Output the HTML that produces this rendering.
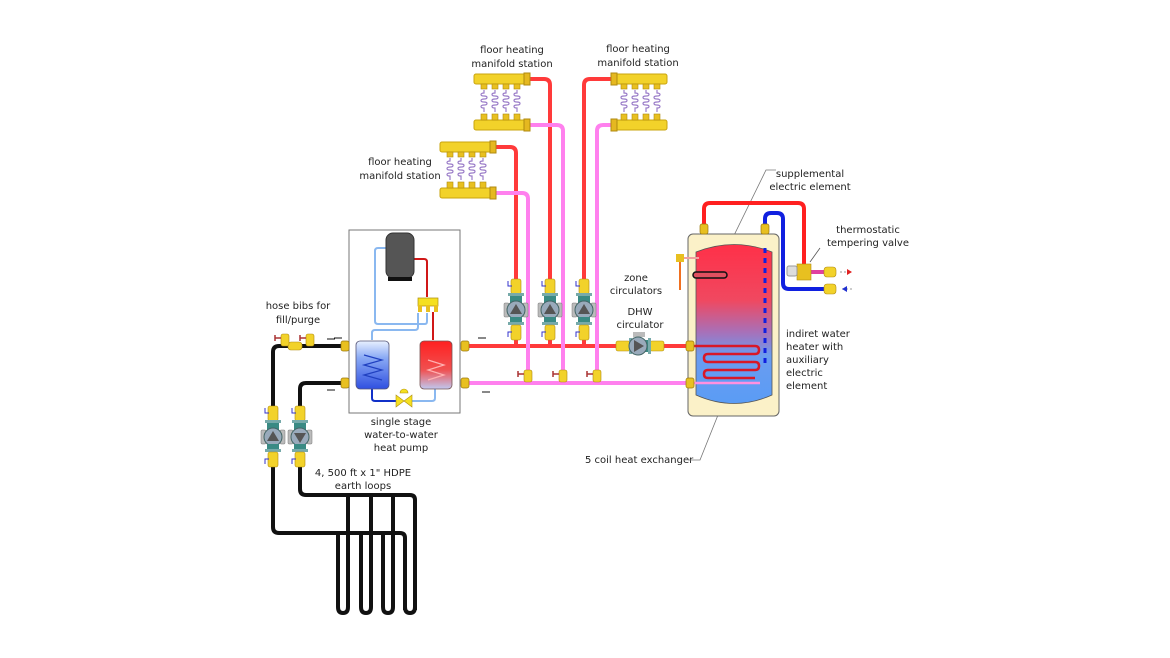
<!DOCTYPE html>
<html><head><meta charset="utf-8"><style>
html,body{margin:0;padding:0;background:#fff}
svg{display:block}
text{font-family:"DejaVu Sans","Liberation Sans",sans-serif;font-size:10px;fill:#222}
</style></head><body>
<svg width="1170" height="658" viewBox="0 0 1170 658" xmlns="http://www.w3.org/2000/svg">
<defs>
<linearGradient id="tank" x1="0" y1="0" x2="0" y2="1">
<stop offset="0" stop-color="#ff3048"/><stop offset="0.35" stop-color="#f04860"/><stop offset="0.55" stop-color="#a870b8"/><stop offset="0.7" stop-color="#6a9cf0"/><stop offset="1" stop-color="#5a9cf5"/></linearGradient>
<linearGradient id="evap" x1="0" y1="0" x2="0" y2="1"><stop offset="0" stop-color="#e8f0ff"/><stop offset="0.35" stop-color="#8aaaf5"/><stop offset="1" stop-color="#3050e0"/></linearGradient>
<linearGradient id="cond" x1="0" y1="0" x2="0" y2="1"><stop offset="0" stop-color="#ff2020"/><stop offset="0.6" stop-color="#f05050"/><stop offset="1" stop-color="#c0c8f0"/></linearGradient>
<g id="mf">
<rect x="0" y="-5" width="52" height="10" rx="2" fill="#f2d22a" stroke="#c9a40f"/>
<rect x="50" y="-6" width="6" height="12" fill="#e5b820" stroke="#b08a10"/>
<rect x="0" y="41" width="52" height="10" rx="2" fill="#f2d22a" stroke="#c9a40f"/>
<rect x="50" y="40" width="6" height="12" fill="#e5b820" stroke="#b08a10"/>
<g fill="#e8c020" stroke="#b08a10" stroke-width=".6">
<rect x="7" y="5" width="6" height="5"/><rect x="18" y="5" width="6" height="5"/><rect x="29" y="5" width="6" height="5"/><rect x="40" y="5" width="6" height="5"/>
<rect x="7" y="35" width="6" height="6"/><rect x="18" y="35" width="6" height="6"/><rect x="29" y="35" width="6" height="6"/><rect x="40" y="35" width="6" height="6"/></g>
<g fill="none" stroke="#9a7cc8" stroke-width="1.2">
<path d="M10 11v3 c-4 0 -4 3 0 3 c4 0 4 3 0 3 c-4 0 -4 3 0 3 c4 0 4 3 0 3 c-4 0 -4 3 0 3 v4"/>
<path d="M21 11v3 c-4 0 -4 3 0 3 c4 0 4 3 0 3 c-4 0 -4 3 0 3 c4 0 4 3 0 3 c-4 0 -4 3 0 3 v4"/>
<path d="M32 11v3 c-4 0 -4 3 0 3 c4 0 4 3 0 3 c-4 0 -4 3 0 3 c4 0 4 3 0 3 c-4 0 -4 3 0 3 v4"/>
<path d="M43 11v3 c-4 0 -4 3 0 3 c4 0 4 3 0 3 c-4 0 -4 3 0 3 c4 0 4 3 0 3 c-4 0 -4 3 0 3 v4"/></g>
</g>
<g id="circB">
<rect x="-5" y="-31" width="10" height="15" rx="2" fill="#f2d22a" stroke="#b08a10" stroke-width=".6"/>
<rect x="-8" y="-17" width="16" height="3" fill="#7aa"/>
<rect x="-6" y="-14" width="12" height="8" fill="#3a8a84"/>
<rect x="-12" y="-7" width="5" height="14" rx="1" fill="#bbb" stroke="#777" stroke-width=".5"/>
<rect x="7" y="-7" width="5" height="14" rx="1" fill="#bbb" stroke="#777" stroke-width=".5"/>
<circle cx="0" cy="0" r="9" fill="#9ab" stroke="#466" stroke-width="1"/>
<rect x="-6" y="7" width="12" height="5" fill="#3a8a84"/>
<rect x="-8" y="12" width="16" height="3" fill="#7aa"/>
<rect x="-5" y="15" width="10" height="15" rx="2" fill="#f2d22a" stroke="#b08a10" stroke-width=".6"/>
<path d="M-8 -29 v5 h4 M-8 27 v-5 h4" stroke="#33c" fill="none"/>
</g>
<g id="circV"><use href="#circB"/><path d="M-6 4 L0 -6 L6 4Z" fill="#555"/></g>
<g id="circD"><use href="#circB"/><path d="M-6 -4 L0 6 L6 -4Z" fill="#555"/></g>
<g id="fit"><rect x="-4" y="-5" width="8" height="10" rx="2" fill="#e8c020" stroke="#9a7810" stroke-width=".7"/></g>
<g id="bv"><rect x="-4" y="-6" width="8" height="12" rx="2" fill="#f2d22a" stroke="#b08a10" stroke-width=".6"/><path d="M-4 -2 h-6 M-10 -5 v6" stroke="#a33" stroke-width="1.5"/></g>
</defs>

<!-- labels -->
<text x="512" y="53" text-anchor="middle">floor heating</text>
<text x="512" y="67" text-anchor="middle">manifold station</text>
<text x="638" y="52" text-anchor="middle">floor heating</text>
<text x="638" y="66" text-anchor="middle">manifold station</text>
<text x="400" y="165" text-anchor="middle">floor heating</text>
<text x="400" y="179" text-anchor="middle">manifold station</text>
<text x="298" y="309" text-anchor="middle">hose bibs for</text>
<text x="298" y="323" text-anchor="middle">fill/purge</text>
<text x="636" y="281" text-anchor="middle">zone</text>
<text x="636" y="294" text-anchor="middle">circulators</text>
<text x="640" y="315" text-anchor="middle">DHW</text>
<text x="640" y="328" text-anchor="middle">circulator</text>
<text x="401" y="425" text-anchor="middle">single stage</text>
<text x="401" y="438" text-anchor="middle">water-to-water</text>
<text x="401" y="451" text-anchor="middle">heat pump</text>
<text x="363" y="476" text-anchor="middle">4, 500 ft x 1" HDPE</text>
<text x="363" y="489" text-anchor="middle">earth loops</text>
<text x="810" y="177" text-anchor="middle">supplemental</text>
<text x="810" y="190" text-anchor="middle">electric element</text>
<text x="868" y="233" text-anchor="middle">thermostatic</text>
<text x="868" y="246" text-anchor="middle">tempering valve</text>
<text x="786" y="337">indiret water</text>
<text x="786" y="350">heater with</text>
<text x="786" y="363">auxiliary</text>
<text x="786" y="376">electric</text>
<text x="786" y="389">element</text>
<text x="585" y="463">5 coil heat exchanger</text>
<path d="M688 460 h12 L730 385" stroke="#777" stroke-width=".8" fill="none"/>
<path d="M776 170 h-10 L718 268" stroke="#777" stroke-width=".8" fill="none"/>
<path d="M820 248 L810 262" stroke="#555" stroke-width=".8" fill="none"/>

<!-- earth loops -->
<g fill="none" stroke="#111" stroke-width="4">
<path d="M345 346 H279 q-6 0 -6 6 V527 q0 6 6 6 H400 q5 0 5 5 V610"/>
<path d="M345 383 H306 q-6 0 -6 6 V489 q0 6 6 6 H410 q5 0 5 5 V610"/>
<path d="M338 533 V607 q0 6 5 6 q5 0 5 -6 V495"/>
<path d="M361 533 V607 q0 6 5 6 q5 0 5 -6 V495"/>
<path d="M383 533 V607 q0 6 5 6 q5 0 5 -6 V495"/>
<path d="M405 607 q0 6 5 6 q5 0 5 -6"/>
</g>
<rect x="288" y="342" width="14" height="8" rx="3" fill="#f2d22a" stroke="#b08a10" stroke-width=".6"/>
<use href="#bv" x="285" y="340"/>
<use href="#bv" x="310" y="340"/>
<use href="#circV" x="273" y="437"/>
<use href="#circD" x="300" y="437"/>
<path d="M335 339 h-8 M335 390 h-8" stroke="#111" stroke-width="1"/>

<!-- supply/return mains -->
<g fill="none" stroke-width="4">
<path d="M462 346 H690" stroke="#ff3a3a"/>
<path d="M462 383 H690" stroke="#ff80ee"/>
<path d="M528 79 H544 q6 0 6 6 V346" stroke="#ff3a3a"/>
<path d="M528 125 H557 q6 0 6 6 V383" stroke="#ff80ee"/>
<path d="M612 79 H590 q-6 0 -6 6 V346" stroke="#ff3a3a"/>
<path d="M612 125 H603 q-6 0 -6 6 V383" stroke="#ff80ee"/>
<path d="M495 147 H510 q6 0 6 6 V346" stroke="#ff3a3a"/>
<path d="M495 193 H522 q6 0 6 6 V383" stroke="#ff80ee"/>
</g>
<use href="#mf" x="474" y="79"/>
<g transform="translate(667 79) scale(-1 1)"><use href="#mf"/></g>
<use href="#mf" x="440" y="147"/>
<use href="#circV" x="516" y="310"/>
<use href="#circV" x="550" y="310"/>
<use href="#circV" x="584" y="310"/>
<use href="#bv" x="528" y="376"/>
<use href="#bv" x="563" y="376"/>
<use href="#bv" x="597" y="376"/>
<!-- DHW circ -->
<g transform="translate(640 346)">
<rect x="-24" y="-5" width="14" height="10" rx="2" fill="#f2d22a" stroke="#b08a10" stroke-width=".6"/>
<rect x="10" y="-5" width="14" height="10" rx="2" fill="#f2d22a" stroke="#b08a10" stroke-width=".6"/>
<rect x="-11" y="-8" width="3" height="16" fill="#7aa"/><rect x="8" y="-8" width="3" height="16" fill="#7aa"/>
<rect x="-8" y="-6" width="16" height="12" fill="#3a8a84"/>
<rect x="-7" y="-14" width="12" height="5" fill="#bbb"/>
<circle cx="-2" cy="0" r="9" fill="#9ab" stroke="#466"/>
<path d="M-6 -6 L4 0 L-6 6Z" fill="#555"/>
</g>

<!-- heat pump -->
<rect x="349" y="230" width="111" height="183" fill="#fff" stroke="#777" stroke-width="1"/>
<g fill="none" stroke-width="2">
<path d="M388 248 H378 q-3 0 -3 3 V321 q0 3 3 3 H425 q2 0 2 -3 V313" stroke="#8ab8f0"/>
<path d="M372 340 V333 q0 -3 3 -3 H415 q3 0 3 -3 V313" stroke="#8ab8f0"/>
<path d="M413 259 H424 q3 0 3 3 V297" stroke="#d01818"/>
<path d="M433 312 V340" stroke="#d01818"/>
<path d="M372 388 V398 q0 3 3 3 H396" stroke="#1030c8"/>
<path d="M412 401 H432 q3 0 3 -3 V388" stroke="#8ab8f0"/>
</g>
<rect x="386" y="233" width="28" height="45" rx="7" fill="#555" stroke="#333"/>
<rect x="388" y="277" width="24" height="4" fill="#111"/>
<path d="M418 298 h20 v8 h-20z" fill="#f5e020" stroke="#b09010" stroke-width=".7"/>
<rect x="418" y="305" width="4" height="7" fill="#e8c020"/><rect x="426" y="305" width="4" height="7" fill="#e8c020"/><rect x="434" y="305" width="4" height="7" fill="#e8c020"/>
<rect x="356" y="341" width="33" height="48" rx="4" fill="url(#evap)" stroke="#557" stroke-width=".8"/>
<path d="M364 355 l18 5 l-18 5 l18 5 l-18 5 l18 5" stroke="#2040c0" fill="none" stroke-width="1.2"/>
<rect x="420" y="341" width="32" height="48" rx="4" fill="url(#cond)" stroke="#755" stroke-width=".8"/>
<path d="M428 360 l16 5 l-16 5 l16 5 l-16 5" stroke="#ffb0b0" fill="none" stroke-width="1.2"/>
<path d="M396 395 l8 6 l-8 6z M412 395 l-8 6 l8 6z" fill="#f5e020" stroke="#b09010" stroke-width=".6"/>
<path d="M400 393 a4 4 0 0 1 8 0z" fill="#f5e020" stroke="#b09010" stroke-width=".6"/>
<use href="#fit" x="345" y="346"/><use href="#fit" x="345" y="383"/>
<use href="#fit" x="465" y="346"/><use href="#fit" x="465" y="383"/>
<path d="M478 338 h8 M482 392 h8 M342 338 h-8" stroke="#111" stroke-width="1"/>

<!-- tank -->
<g fill="none" stroke-width="4">
<path d="M704 236 V209 q0 -6 6 -6 H798 q6 0 6 6 V268" stroke="#ff2020"/>
<path d="M765 236 V219 q0 -6 6 -6 H777 q6 0 6 6 V283 q0 6 6 6 H830" stroke="#1020e0"/>
<path d="M810 272 H828" stroke="#e040a0"/>
</g>
<rect x="797" y="264" width="14" height="16" fill="#e8c020" stroke="#b08a10" stroke-width=".6"/>
<rect x="787" y="266" width="10" height="10" rx="2" fill="#ddd" stroke="#999"/>
<rect x="824" y="267" width="12" height="10" rx="3" fill="#f2d22a" stroke="#b08a10" stroke-width=".6"/>
<rect x="824" y="284" width="12" height="10" rx="3" fill="#f2d22a" stroke="#b08a10" stroke-width=".6"/>
<path d="M840 272 h10 M842 289 h10" stroke="#999" stroke-dasharray="2 2"/>
<path d="M852 272 l-5 -3 v6z" fill="#e02020"/><path d="M842 289 l5 -3 v6z" fill="#2030d0"/>
<rect x="688" y="234" width="91" height="182" rx="5" fill="#fbf1c8" stroke="#666"/>
<path d="M696 252 Q734 237 772 252 V395 Q734 412 696 395Z" fill="url(#tank)" stroke="#555" stroke-width=".8"/>
<use href="#fit" x="704" y="229"/><use href="#fit" x="765" y="229"/>
<path d="M765 248 V368" stroke="#1020e0" stroke-width="3" stroke-dasharray="5 5"/>
<rect x="693" y="272" width="34" height="6" rx="3" fill="#e05060" stroke="#111" stroke-width="1.5"/>
<path d="M683 258 h16" stroke="#f0a0a0" stroke-width="2"/>
<path d="M680 258 V290" stroke="#f07020" stroke-width="2"/>
<rect x="676" y="254" width="8" height="8" fill="#e8c020"/>
<g fill="none" stroke-width="2.5">
<path d="M690 346 H755 q4 0 4 4 q0 4 -4 4 H708 q-4 0 -4 4 q0 4 4 4 H755 q4 0 4 4 q0 4 -4 4 H708 q-4 0 -4 4 q0 4 4 4 H755" stroke="#d81828"/>
<path d="M690 383 H760" stroke="#ff90e0"/>
</g>
<use href="#fit" x="690" y="346"/><use href="#fit" x="690" y="383"/>
</svg>
</body></html>
